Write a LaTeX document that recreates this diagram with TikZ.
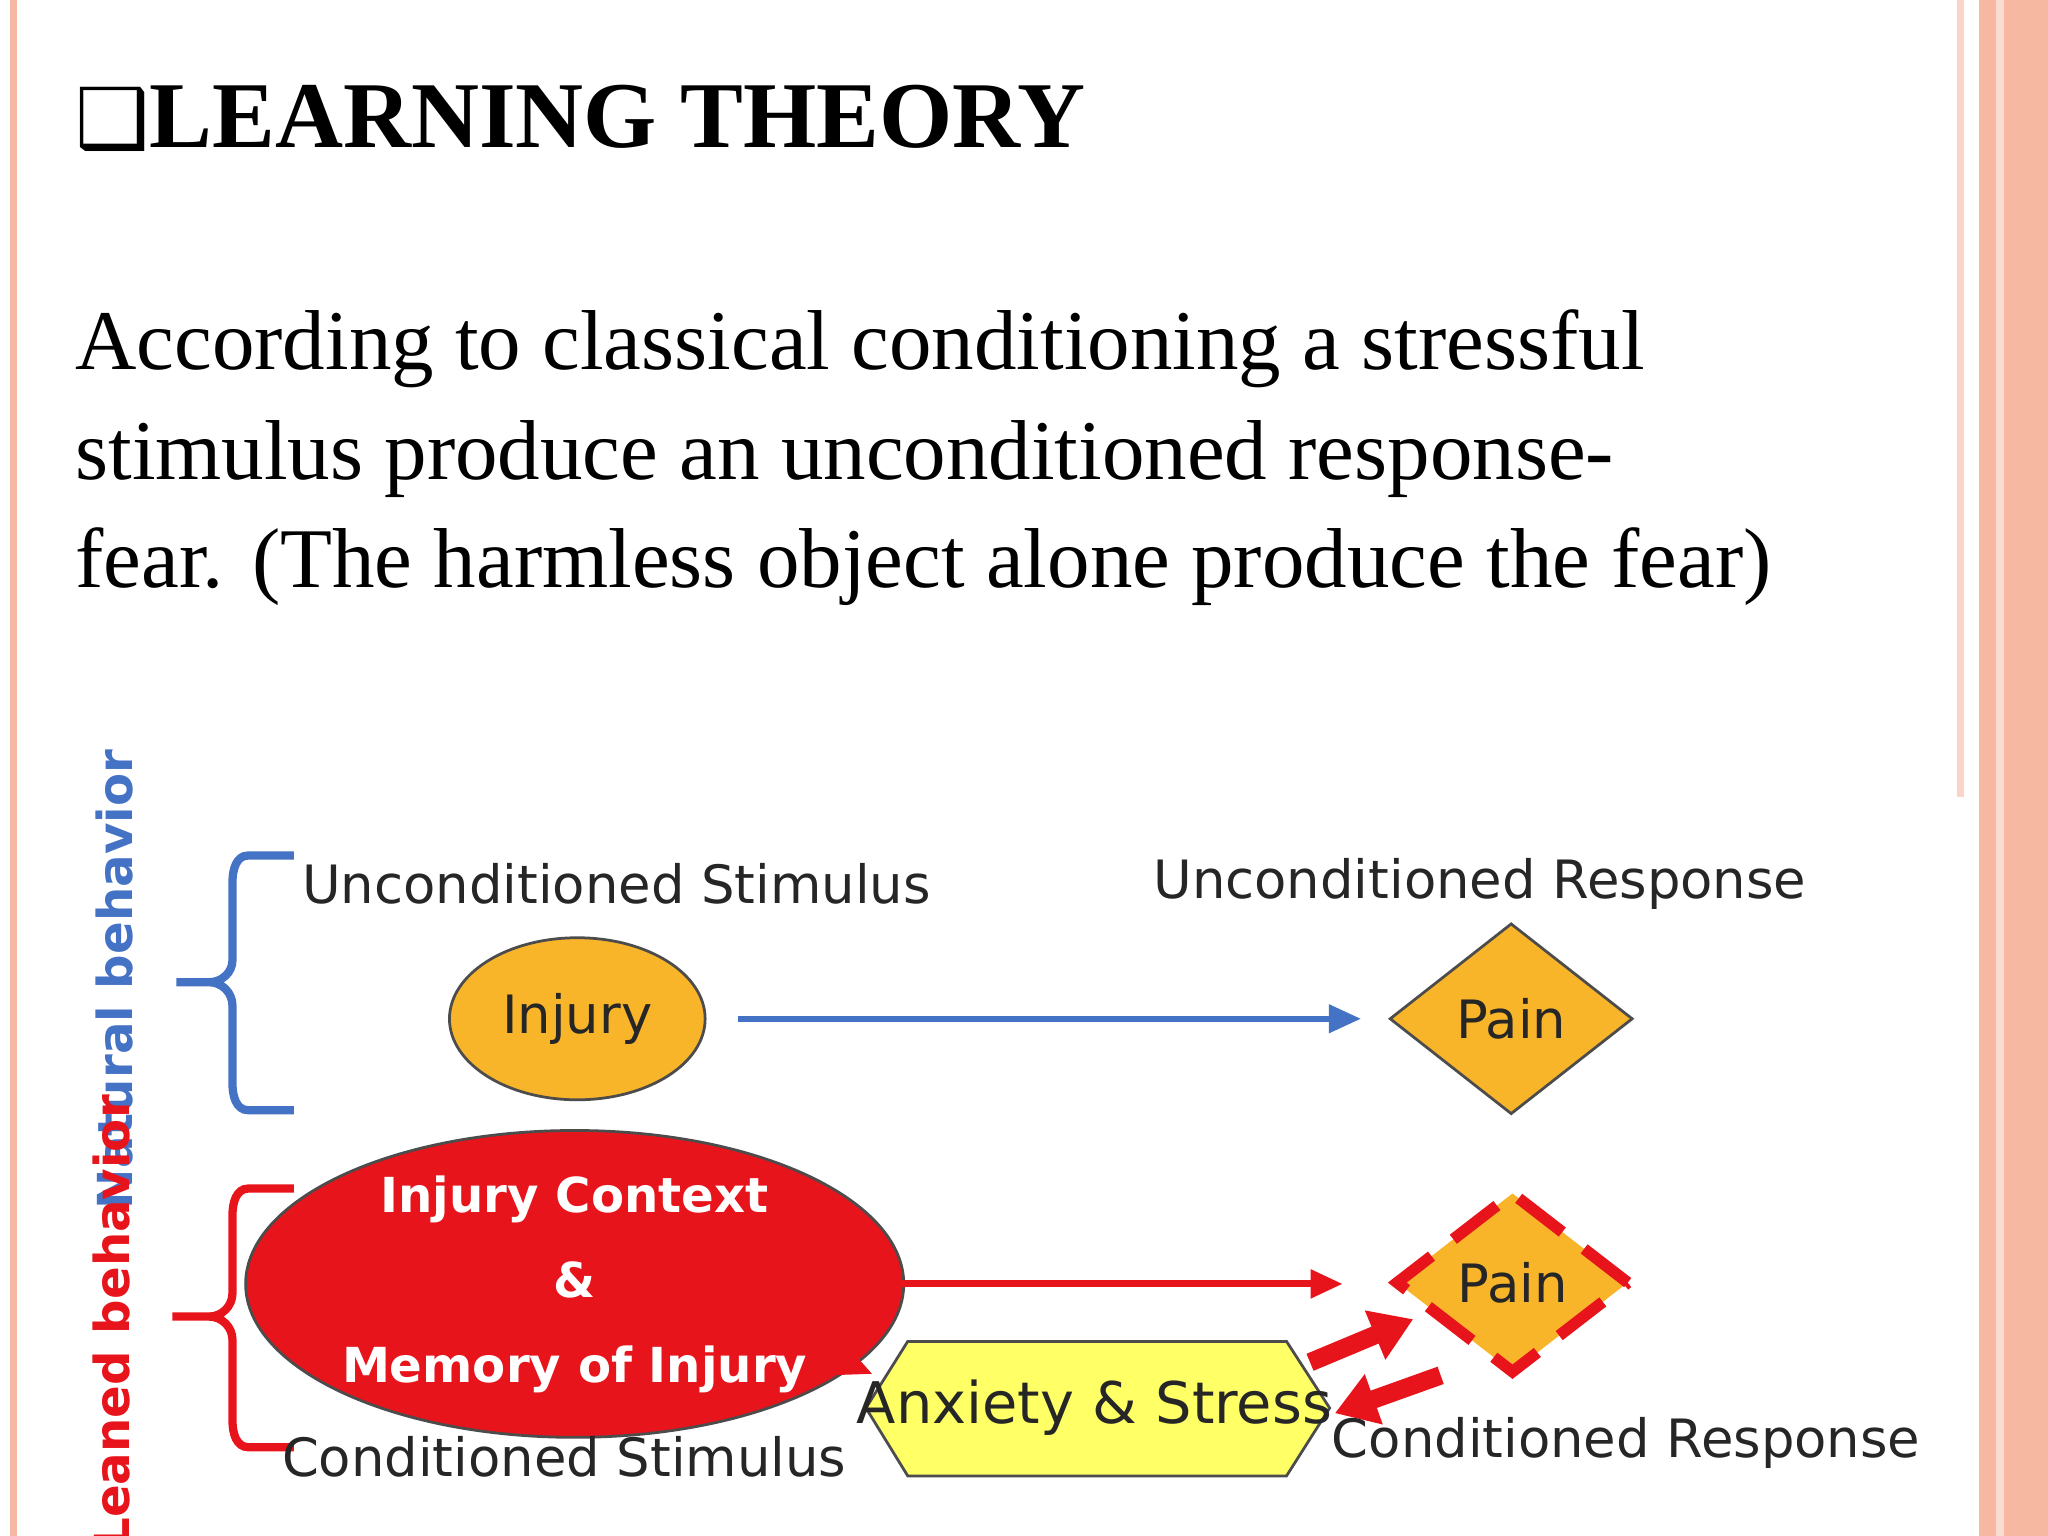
\documentclass[tikz,border=0pt]{standalone}
\usepackage{fontspec}
\setmainfont{Liberation Serif}
\newfontfamily\djf{DejaVu Sans}
\usetikzlibrary{shapes.geometric,arrows.meta}
\definecolor{peach}{HTML}{F7B8A2}
\definecolor{orng}{HTML}{F9B52A}
\definecolor{rd}{HTML}{E8141B}
\definecolor{bl}{HTML}{4472C4}
\definecolor{yl}{HTML}{FFFF66}
\tikzset{lbl/.style={font=\djf\fontsize{11.5}{14}\selectfont, text=black!85},
 shp/.style={draw=black!70, line width=0.6pt},
 body/.style={anchor=base west, inner sep=0, font=\fontsize{18.5}{24}\selectfont}}
\begin{document}
\begin{tikzpicture}[x=0.01cm,y=-0.01cm]
\useasboundingbox (0,0) rectangle (1568,1176);
\fill[white] (0,0) rectangle (1568,1176);
\fill[peach] (8,0) rectangle (13,1176);
\fill[peach!60] (1498,0) rectangle (1504,610);
\fill[peach] (1515,0) rectangle (1568,1176);
\fill[peach!50] (1528,0) rectangle (1534,1176);
\node[anchor=base west, inner sep=0, font=\bfseries\fontsize{20.5}{24}\selectfont] (title) at (57,113) {{\djf\fontsize{18}{20}\selectfont ❑}LEARNING THEORY};
\node[body] (p1) at (57,283) {According to classical conditioning a stressful};
\node[body] (p2) at (57,367) {stimulus produce an unconditioned response-};
\node[body] (p3) at (57,450) {fear. (The harmless object alone produce the fear)};
% natural
\node[rotate=90, font=\djf\bfseries\fontsize{10.5}{12}\selectfont, text=bl] (nb) at (88,750) {Natural behavior};
\draw[bl, line width=1.8pt] (225,655) -- (190,655) to[out=180,in=90] (178,675) -- (178,735) to[out=-90,in=0] (160,752) -- (135,752)
 (160,752) to[out=0,in=90] (178,770) -- (178,830) to[out=-90,in=180] (190,850) -- (225,850);
\node[lbl] (us) at (472,677) {Unconditioned Stimulus};
\node[lbl] (ur) at (1133,677) {Unconditioned Response};
\node[shp, ellipse, fill=orng, minimum width=1.56cm, minimum height=1.24cm, lbl] (inj) at (442,780) {Injury};
\node[shp, diamond, fill=orng, minimum width=1.86cm, minimum height=1.46cm, inner sep=0, lbl] (pain1) at (1157,780) {Pain};
\coordinate (a1) at (565,780); \coordinate (b1) at (1042,780);
\draw[bl, line width=1.3pt, -{Triangle[length=7pt,width=6pt]}] (a1) -- (b1);
% learned
\node[rotate=90, font=\djf\bfseries\fontsize{10.5}{12}\selectfont, text=rd] (lb) at (85,1012) {Leaned behavior};
\draw[rd, line width=1.8pt] (225,910) -- (190,910) to[out=180,in=90] (178,930) -- (178,990) to[out=-90,in=0] (160,1008) -- (132,1008)
 (160,1008) to[out=0,in=90] (178,1026) -- (178,1088) to[out=-90,in=180] (190,1108) -- (225,1108);
\node[shp, ellipse, fill=rd, minimum width=3.52cm, minimum height=1.24cm, inner sep=0, align=center, text=white,
 font=\djf\bfseries\fontsize{10.5}{18.5}\selectfont] (ctx) at (440,983) {Injury Context\\ \&\\ Memory of Injury};
\node[diamond, fill=orng, draw=rd, dash pattern=on 12pt off 6pt, line width=2.5pt, minimum width=1.8cm, minimum height=1.4cm, inner sep=0, lbl] (pain2) at (1158,982) {Pain};
\fill[yl] (663,1078) -- (695,1027) -- (985,1027) -- (1018,1078) -- (985,1130) -- (695,1130) -- cycle;
\draw[black!70, line width=0.6pt] (663,1078) -- (695,1027) -- (985,1027) -- (1018,1078) -- (985,1130) -- (695,1130) -- cycle;
\node[lbl, font=\djf\fontsize{12.5}{15}\selectfont] (anx) at (838,1078) {Anxiety \& Stress};
\coordinate (a2) at (622,983); \coordinate (b2) at (1028,983);
\draw[rd, line width=1.5pt, -{Triangle[length=7pt,width=6pt]}] (a2) -- (b2);
\coordinate (a3) at (598,1022); \coordinate (b3) at (668,1052);
\draw[rd, line width=1.5pt, -{Triangle[length=7pt,width=6pt]}] (a3) -- (b3);
\coordinate (a4) at (1003,1043); \coordinate (b4) at (1082,1010);
\draw[rd, line width=4pt, -{Triangle[length=9pt,width=11pt]}] (a4) -- (b4);
\coordinate (a5) at (1103,1053); \coordinate (b5) at (1022,1082);
\draw[rd, line width=4pt, -{Triangle[length=9pt,width=11pt]}] (a5) -- (b5);
\node[lbl] (cs) at (432,1115) {Conditioned Stimulus};
\node[lbl] (cr) at (1245,1105) {Conditioned Response};
\end{tikzpicture}
\end{document}
